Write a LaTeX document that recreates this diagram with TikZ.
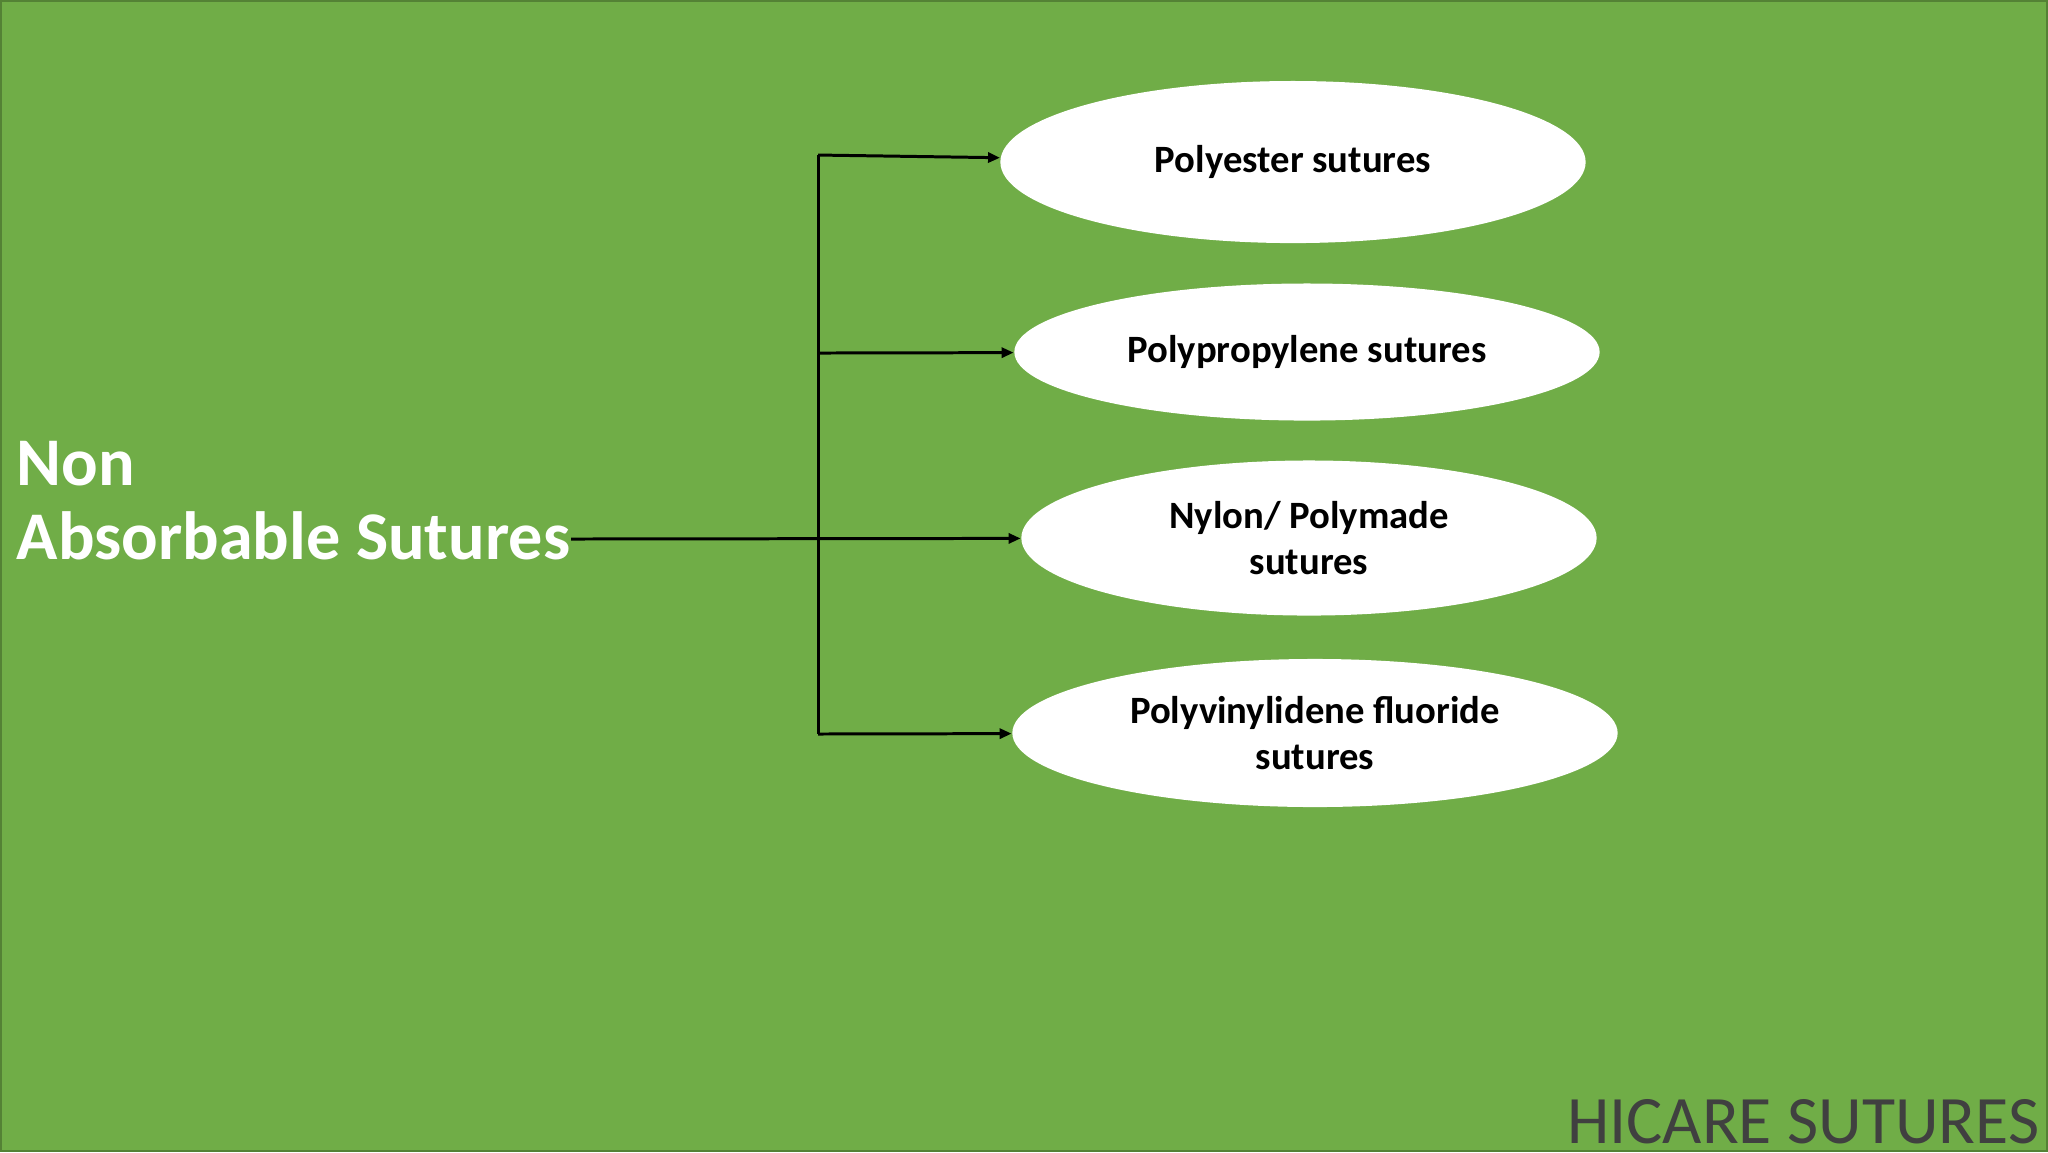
\documentclass[tikz,border=0pt]{standalone}
\usepackage{fontspec}
\setmainfont{Carlito}
\usetikzlibrary{shapes.geometric,arrows.meta}
\definecolor{bggreen}{HTML}{70AD47}
\definecolor{framegreen}{HTML}{548235}
\definecolor{markgray}{HTML}{404040}
\begin{document}
\begin{tikzpicture}[x=0.01cm,y=-0.01cm,
  leaf/.style={ellipse, fill=white, inner sep=0pt, align=center, text=black,
    font=\bfseries\fontsize{11}{13}\selectfont},
  wire/.style={line width=0.85pt, black},
  conn/.style={wire, -{Triangle[length=0.12cm,width=0.1cm]}},
  titletext/.style={inner sep=0pt, align=left, text=white,
    font=\bfseries\fontsize{19.4}{20.8}\selectfont},
  brand/.style={inner sep=0pt, text=markgray, font=\fontsize{19.3}{22}\selectfont}]
\fill[bggreen] (0,0) rectangle (2048,1152);
\draw[framegreen, line width=0.6pt] (1,1) rectangle (2047,1151);
\useasboundingbox (0,0) rectangle (2048,1152);

\node[leaf, minimum width=5.85cm, minimum height=1.62cm] (e1) at (1293,162) {Polyester sutures};
\node[leaf, minimum width=5.85cm, minimum height=1.37cm] (e2) at (1307,352) {Polypropylene sutures};
\node[leaf, minimum width=5.75cm, minimum height=1.55cm] (e3) at (1309,538) {Nylon/ Polymade\\sutures};
\node[leaf, minimum width=6.05cm, minimum height=1.48cm] (e4) at (1315,733) {Polyvinylidene fluoride\\sutures};

\node[titletext, anchor=north west] (title) at (16,441) {Non\\Absorbable Sutures};
\node[brand, anchor=base east] (brand) at (2040,1143) {HICARE SUTURES};

\coordinate (t1) at (818,155);
\coordinate (t2) at (818,353);
\coordinate (t3) at (818,538);
\coordinate (t4) at (818,734);
\coordinate (tend) at (571,539);

\draw[wire] (t1) -- (t4);
\draw[conn] (t1) -- (e1);
\draw[conn] (t2) -- (e2);
\draw[conn] (tend) -- (e3);
\draw[conn] (t4) -- (e4);
\end{tikzpicture}
\end{document}
